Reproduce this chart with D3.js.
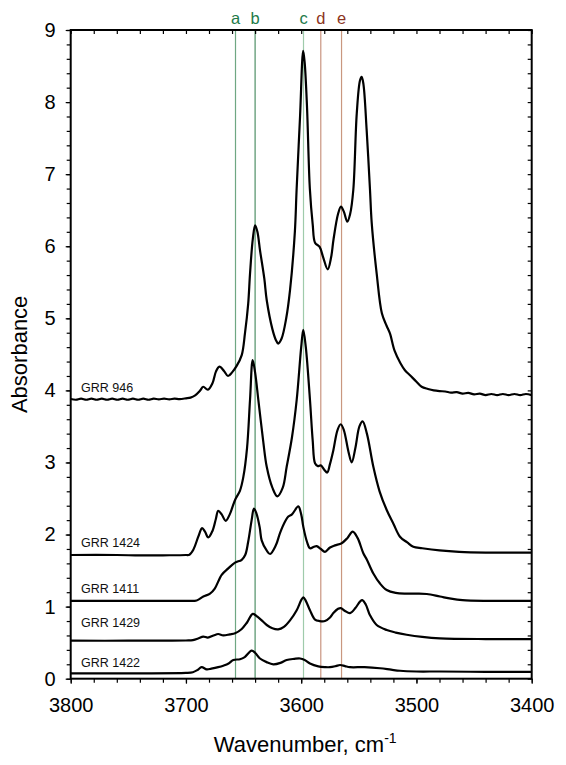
<!DOCTYPE html>
<html>
<head>
<meta charset="utf-8">
<script src="https://cdnjs.cloudflare.com/ajax/libs/d3/7.8.5/d3.min.js"></script>
<style>
  body { margin: 0; background: #fff; }
  svg { font-family: Arial, "Liberation Sans", sans-serif; }
</style>
</head>
<body>
<div id="chart"></div>
<script>
// band positions (cm-1) and their letters
var bandNames = ['a', 'b', 'c', 'd', 'e'];
var bandWaves = [3657, 3640, 3598, 3583, 3565];

var xTicks = [3800, 3700, 3600, 3500, 3400];
var yTicks = [0, 1, 2, 3, 4, 5, 6, 7, 8, 9];

var sampleNames = ['GRR 946', 'GRR 1424', 'GRR 1411', 'GRR 1429', 'GRR 1422'];

// spectra, [wavenumber, absorbance]
var grr946 = [
  [3800,3.88],[3795.5,3.87],[3791,3.885],[3786.5,3.87],[3782,3.885],[3777.5,3.87],[3773,3.885],
  [3768.5,3.87],[3764,3.885],[3759.5,3.87],[3755,3.885],[3750.5,3.87],[3746,3.885],[3741.5,3.87],
  [3737,3.885],[3732.5,3.87],[3728,3.885],[3723.5,3.875],[3719,3.885],[3714.5,3.875],[3710,3.885],
  [3705.5,3.88],[3700,3.89],[3696,3.9],[3692,3.93],[3688,3.99],[3685,4.05],[3681,4.01],[3677,4.1],
  [3674,4.26],[3671,4.33],[3667,4.27],[3663.5,4.2],[3660,4.25],[3656,4.34],[3651.6,4.49],[3648.8,4.79],
  [3646,5.2],[3644.4,5.62],[3642,6.1],[3640,6.29],[3638,6.2],[3635.8,5.95],[3632,5.55],[3629.9,5.25],
  [3625,4.85],[3622,4.7],[3620,4.65],[3617,4.72],[3613,5.0],[3609.7,5.39],[3605.5,6.2],[3604,6.78],
  [3601,7.8],[3598.3,8.71],[3597,8.55],[3595,7.95],[3592.5,6.8],[3590,6.3],[3588,6.05],[3584,5.99],
  [3581,5.85],[3577,5.68],[3574,5.85],[3572,6.09],[3568,6.45],[3565.5,6.55],[3563,6.48],[3560,6.34],
  [3557.5,6.45],[3554.8,6.78],[3551.8,7.84],[3549,8.3],[3547.5,8.35],[3546,8.25],[3543.2,7.61],
  [3540.3,6.78],[3538.8,6.32],[3534.5,5.62],[3530,5.07],[3526,4.9],[3523,4.79],[3519,4.55],[3514,4.38],
  [3510,4.28],[3505.6,4.21],[3500,4.12],[3495.5,4.05],[3490,4.02],[3485,4.0],[3480,3.99],[3475,3.985],
  [3470,3.97],[3465,3.975],[3460,3.955],[3455,3.965],[3450,3.945],[3445,3.955],[3440,3.935],[3435,3.95],
  [3430,3.935],[3425,3.95],[3420,3.935],[3415,3.95],[3410,3.935],[3405,3.95],[3400,3.935]
];

var grr1424 = [
  [3800,1.716],[3760,1.716],[3740,1.71],[3720,1.712],[3700,1.716],[3697,1.72],[3693.6,1.79],
  [3689.3,1.97],[3686,2.09],[3683.5,2.04],[3680.6,1.96],[3677,2.05],[3674,2.22],[3672,2.33],
  [3669,2.28],[3665.5,2.19],[3662,2.28],[3657.4,2.48],[3653.1,2.61],[3650.2,2.8],[3647,3.2],
  [3644.4,3.87],[3642.1,4.42],[3640,4.25],[3637.2,3.87],[3633,3.3],[3629.9,2.94],[3625,2.65],
  [3620.7,2.53],[3616,2.65],[3612.6,2.94],[3608,3.35],[3603.9,3.87],[3600,4.6],[3598.2,4.84],
  [3596,4.6],[3592.4,3.87],[3590,3.3],[3588,2.99],[3585.5,2.95],[3583,2.96],[3580,2.9],[3577.4,2.86],
  [3575,2.98],[3572.1,3.17],[3568.5,3.45],[3565.7,3.53],[3563,3.45],[3559,3.15],[3556.2,3.0],
  [3553,3.2],[3549.5,3.5],[3546.7,3.57],[3543,3.4],[3537.4,2.94],[3532,2.6],[3525.8,2.34],
  [3520,2.15],[3514.3,1.97],[3508,1.89],[3502.7,1.83],[3495,1.81],[3480,1.78],[3463,1.76],
  [3440,1.75],[3400,1.75]
];

var grr1411 = [
  [3800,1.08],[3750,1.08],[3700,1.08],[3690.7,1.085],[3684.9,1.14],[3679.1,1.18],[3675,1.25],
  [3669,1.44],[3663.3,1.53],[3657.4,1.61],[3651.6,1.65],[3648.5,1.72],[3646,1.9],[3643,2.2],
  [3641,2.36],[3639,2.3],[3636,2.1],[3634.3,1.92],[3630,1.78],[3627,1.73],[3622,1.85],[3618.4,2.02],
  [3614,2.18],[3611.2,2.25],[3608,2.28],[3602.5,2.39],[3600,2.28],[3598.2,2.11],[3595,1.9],
  [3592.4,1.81],[3589,1.83],[3586.6,1.84],[3583,1.8],[3579.4,1.76],[3575,1.82],[3570.7,1.85],
  [3564.9,1.88],[3560,1.95],[3555.3,2.04],[3551,1.95],[3546.1,1.74],[3543,1.65],[3537.4,1.46],
  [3531.6,1.32],[3525.8,1.23],[3518,1.19],[3508.5,1.18],[3499.8,1.18],[3491,1.175],[3479.6,1.14],
  [3470,1.11],[3460,1.09],[3440,1.08],[3400,1.08]
];

var grr1429 = [
  [3800,0.527],[3750,0.527],[3700,0.53],[3694,0.535],[3689,0.56],[3685,0.585],[3681,0.57],
  [3676,0.6],[3672,0.62],[3667.6,0.6],[3662,0.615],[3657.4,0.63],[3651.6,0.69],[3647,0.78],
  [3642,0.9],[3638,0.86],[3633,0.79],[3629.9,0.745],[3625,0.7],[3620,0.685],[3615,0.72],
  [3609.7,0.81],[3603.9,0.95],[3600,1.09],[3598.2,1.13],[3596,1.08],[3592.4,0.95],[3588,0.82],
  [3584,0.8],[3579.4,0.8],[3575,0.85],[3572.1,0.91],[3568,0.97],[3565.7,0.98],[3562,0.94],
  [3557.7,0.91],[3553,0.98],[3549,1.07],[3547,1.09],[3544,1.03],[3540.3,0.88],[3534.5,0.745],
  [3525.8,0.675],[3518,0.64],[3508.5,0.61],[3495,0.58],[3479.6,0.56],[3440,0.55],[3400,0.55]
];

var grr1422 = [
  [3800,0.075],[3750,0.075],[3700,0.08],[3694,0.09],[3690,0.12],[3686.4,0.16],[3682,0.13],
  [3678,0.14],[3672,0.16],[3667.6,0.18],[3663,0.21],[3658.9,0.26],[3653.1,0.27],[3649,0.3],
  [3643,0.39],[3640,0.36],[3635.8,0.28],[3630,0.23],[3624.2,0.2],[3618,0.22],[3612.6,0.26],
  [3606,0.275],[3601,0.28],[3597,0.26],[3592.4,0.21],[3585.2,0.17],[3579,0.16],[3575,0.16],
  [3570,0.175],[3566.3,0.19],[3562,0.175],[3557.7,0.16],[3545,0.16],[3531.6,0.145],[3522,0.125],
  [3514.3,0.11],[3500,0.1],[3479.6,0.1],[3440,0.095],[3400,0.095]
];

var spectra = [grr946, grr1424, grr1411, grr1429, grr1422];

(function() {
  var width = 566, height = 765;
  var left = 70.7, right = 531.7, top = 30, bottom = 678.7;

  var bandLine = ['#6fa783', '#4f9066', '#9fcbab', '#c99580', '#c9977f'];
  var bandText = ['#227a48', '#227a48', '#227a48', '#8c3422', '#8c3422'];
  var labelLift = [7.3, 7.7, 8.2, 14, 6.6];

  var svg = d3.select('#chart')
              .append('svg')
              .attr('width', width)
              .attr('height', height);

  var x = d3.scaleLinear().domain([3800, 3400]).range([left, right]);
  var y = d3.scaleLinear().domain([0, 9]).range([bottom, top]);

  // band markers
  svg.append('g')
    .selectAll('line')
    .data(bandWaves)
    .enter()
    .append('line')
    .attr('x1', function(d) {return x(d)})
    .attr('x2', function(d) {return x(d)})
    .attr('y1', y(9))
    .attr('y2', y(0))
    .attr('stroke', function(d, i) {return bandLine[i]})
    .attr('stroke-width', 1.2);

  svg.append('g')
    .selectAll('text')
    .data(bandWaves)
    .enter()
    .append('text')
    .attr('x', function(d) {return x(d)})
    .attr('y', top - 6.5)
    .attr('text-anchor', 'middle')
    .attr('font-size', 16.5)
    .attr('fill', function(d, i) {return bandText[i]})
    .text(function(d, i) {return bandNames[i]});

  // spectra
  var line = d3.line()
    .x(function(d) {return x(d[0])})
    .y(function(d) {return y(d[1])})
    .curve(d3.curveCatmullRom.alpha(0.5));

  svg.append('g')
    .selectAll('path')
    .data(spectra)
    .enter()
    .append('path')
    .attr('d', line)
    .attr('fill', 'none')
    .attr('stroke', '#000')
    .attr('stroke-width', 2.2)
    .attr('stroke-linejoin', 'round');

  svg.append('g')
    .selectAll('text')
    .data(spectra)
    .enter()
    .append('text')
    .attr('x', 81)
    .attr('y', function(d, i) {return y(d[0][1]) - labelLift[i]})
    .attr('font-size', 12.5)
    .attr('fill', '#111')
    .text(function(d, i) {return sampleNames[i]});

  // axes
  var xMinor = d3.range(3800, 3399, -20);
  var yMinor = d3.range(0, 9.01, 0.2);

  function plain(g) {
    g.select('.domain').remove();
    g.selectAll('.tick line').attr('stroke', '#000').attr('stroke-width', 1.2);
  }

  svg.append('g')
    .attr('transform', 'translate(0,' + bottom + ')')
    .call(d3.axisBottom(x).tickValues(xMinor).tickSize(4).tickFormat(''))
    .call(plain);

  svg.append('g')
    .attr('transform', 'translate(0,' + bottom + ')')
    .call(d3.axisBottom(x).tickValues(xTicks).tickSize(5).tickPadding(14).tickFormat(d3.format('d')))
    .call(plain)
    .selectAll('text')
    .attr('font-size', 20)
    .attr('font-family', 'Arial, "Liberation Sans", sans-serif')
    .attr('fill', '#000');

  svg.append('g')
    .attr('transform', 'translate(0,' + top + ')')
    .call(d3.axisBottom(x).tickValues(xMinor).tickSize(4).tickFormat(''))
    .call(plain);

  svg.append('g')
    .attr('transform', 'translate(' + left + ',0)')
    .call(d3.axisLeft(y).tickValues(yMinor).tickSize(4).tickFormat(''))
    .call(plain);

  svg.append('g')
    .attr('transform', 'translate(' + left + ',0)')
    .call(d3.axisLeft(y).tickValues(yTicks).tickSize(5).tickPadding(10).tickFormat(d3.format('d')))
    .call(plain)
    .selectAll('text')
    .attr('font-size', 20)
    .attr('font-family', 'Arial, "Liberation Sans", sans-serif')
    .attr('fill', '#000');

  svg.append('g')
    .attr('transform', 'translate(' + right + ',0)')
    .call(d3.axisLeft(y).tickValues(yMinor).tickSize(4).tickFormat(''))
    .call(plain);

  svg.append('rect')
    .attr('x', left)
    .attr('y', top)
    .attr('width', right - left)
    .attr('height', bottom - top)
    .attr('fill', 'none')
    .attr('stroke', '#000')
    .attr('stroke-width', 2);

  // titles
  var xt = svg.append('text')
    .attr('x', (left + right) / 2 + 4)
    .attr('y', 752)
    .attr('text-anchor', 'middle')
    .attr('font-size', 22)
    .attr('fill', '#000');
  xt.append('tspan').text('Wavenumber, cm');
  xt.append('tspan').attr('dy', -9).attr('font-size', 14).text('-1');

  svg.append('text')
    .attr('transform', 'translate(27,' + ((top + bottom) / 2) + ') rotate(-90)')
    .attr('text-anchor', 'middle')
    .attr('font-size', 22)
    .attr('fill', '#000')
    .text('Absorbance');

})()
</script>
</body>
</html>
